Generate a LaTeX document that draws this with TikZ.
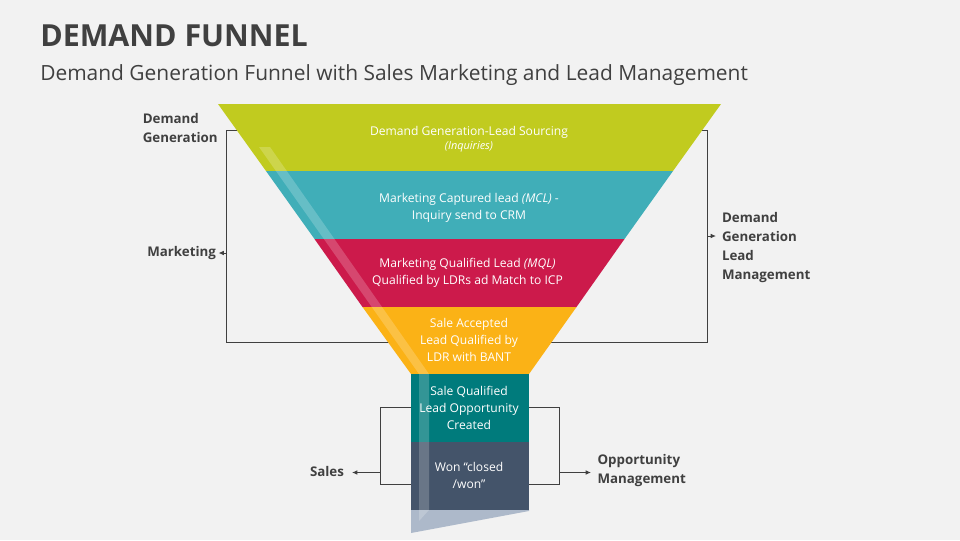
\documentclass[tikz,border=0pt]{standalone}
\usepackage{fontspec}
\setmainfont{Open Sans}
\usetikzlibrary{arrows.meta}
\definecolor{bgGrey}{HTML}{F2F2F2}
\definecolor{inkGrey}{HTML}{404040}
\definecolor{bandOlive}{HTML}{C1CB1F}
\definecolor{bandTeal}{HTML}{40AEB8}
\definecolor{bandRed}{HTML}{CC1A4B}
\definecolor{bandAmber}{HTML}{FBB216}
\definecolor{bandGreen}{HTML}{007B7C}
\definecolor{bandSlate}{HTML}{44546A}
\definecolor{bandShadow}{HTML}{ADB9CA}
\begin{document}
\begin{tikzpicture}[x=0.75pt,y=-0.75pt]

\tikzset{
  bandtext/.style={text=white, align=center, font=\fontsize{9.07}{12.75}\selectfont},
  sidelabel/.style={text=inkGrey, align=left, inner sep=0pt, font=\fontsize{10}{14.3}\selectfont\bfseries},
  bracket/.style={draw=inkGrey, line width=0.7pt},
  outarrow/.style={bracket, -{Latex[length=4pt,width=3.5pt]}}
}

\fill[bgGrey] (0,0) rectangle (960,540);
\useasboundingbox (0,0) rectangle (960,540);

\node[anchor=west, inner sep=0pt, text=inkGrey, font=\fontsize{22.8}{28}\selectfont\bfseries] (T_1) at (40,35.5) {DEMAND FUNNEL};
\node[anchor=west, inner sep=0pt, text=inkGrey, font=\fontsize{15.7}{18}\selectfont] (T_2) at (40,75.5) {Demand Generation Funnel with Sales Marketing and Lead Management};

\coordinate (L_1) at (380,407);
\coordinate (L_2) at (380,484);
\coordinate (L_3) at (380,472.5);
\coordinate (R_1) at (559,407);
\coordinate (R_2) at (559,484);
\coordinate (R_3) at (559,472.5);
\coordinate (A_1) at (226.5,130);
\coordinate (A_2) at (226.5,342);
\coordinate (A_3) at (226.5,253);
\coordinate (B_1) at (707,130);
\coordinate (B_2) at (707,342);
\coordinate (B_3) at (707,236);
\coordinate (A_4) at (300,130);
\coordinate (A_5) at (400,342);
\coordinate (B_4) at (650,130);
\coordinate (B_5) at (540,342);
\coordinate (C_1) at (420,407);
\coordinate (C_2) at (420,484);
\coordinate (C_3) at (520,407);
\coordinate (C_4) at (520,484);

\node[sidelabel, anchor=north west] (S_1) at (142.5,113.5) {Demand\\Generation};
\node[sidelabel, anchor=east, outer sep=1.9pt] (S_2) at (218.5,253) {Marketing};
\node[sidelabel, anchor=west, outer sep=4.5pt] (S_3) at (716,247.5) {Demand\\Generation\\Lead\\Management};
\node[sidelabel, anchor=east, outer sep=6pt] (S_4) at (352,471) {Sales};
\node[sidelabel, anchor=west, outer sep=4.9pt] (S_5) at (591,470.5) {Opportunity\\Management};

\draw[bracket] (A_4) -- (A_1) -- (A_2) -- (A_5);
\draw[bracket] (B_4) -- (B_1) -- (B_2) -- (B_5);
\draw[bracket] (C_1) -- (L_1) -- (L_2) -- (C_2);
\draw[bracket] (C_3) -- (R_1) -- (R_2) -- (C_4);
\draw[outarrow] (A_3) -- (A_3 -| S_2.east);
\draw[outarrow] (B_3) -- (B_3 -| S_3.west);
\draw[outarrow] (L_3) -- (L_3 -| S_4.east);
\draw[outarrow] (R_3) -- (R_3 -| S_5.west);

\fill[bandOlive] (218,104) -- (721,104) -- (673,171) -- (266,171) -- cycle;
\fill[bandTeal] (266,171) -- (673,171) -- (624.5,239) -- (314.5,239) -- cycle;
\fill[bandRed] (314.5,239) -- (624.5,239) -- (576.5,307) -- (362.5,307) -- cycle;
\fill[bandAmber] (362.5,307) -- (576.5,307) -- (529,374) -- (411,374) -- cycle;
\fill[bandGreen] (411,374) rectangle (529,442);
\fill[bandSlate] (411,442) rectangle (529,510);
\fill[bandShadow] (411,510) -- (529,510) -- (529,511) -- (411,533) -- cycle;
\fill[white, opacity=0.2] (259,147) -- (270,147) -- (429,374) -- (429,510) -- (419,521) -- (419,374) -- cycle;

\node[bandtext] (F_1) at (469,139) {Demand Generation-Lead Sourcing\\[-2pt]{\fontsize{8.2}{9}\selectfont\itshape (Inquiries)}};
\node[bandtext] (F_2) at (469,208) {Marketing Captured lead {\itshape (MCL)} -\\Inquiry send to CRM};
\node[bandtext] (F_3) at (467.5,273) {Marketing Qualified Lead {\itshape (MQL)}\\Qualified by LDRs ad Match to ICP};
\node[bandtext] (F_4) at (469,340) {Sale Accepted\\Lead Qualified by\\LDR with BANT};
\node[bandtext] (F_5) at (469,407.5) {Sale Qualified\\Lead Opportunity\\Created};
\node[bandtext] (F_6) at (469,475) {Won “closed\\/won”};

\end{tikzpicture}
\end{document}
